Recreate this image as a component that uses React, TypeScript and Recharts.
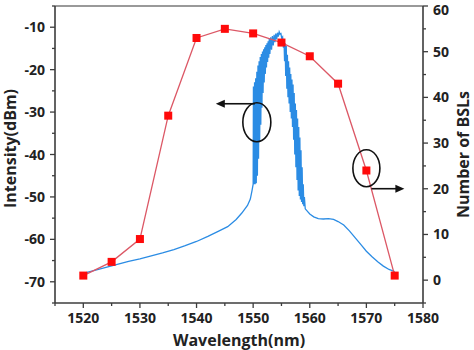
import React from 'react';
import {
  Label,
  Line,
  LineChart,
  ReferenceDot,
  ReferenceLine,
  XAxis,
  YAxis,
} from 'recharts';

// number of BSLs (right axis)
const bslWavelengths = [1520, 1525, 1530, 1535, 1540, 1545, 1550, 1555, 1560, 1565, 1570, 1575];
const bslCounts = [1, 4, 9, 36, 53, 55, 54, 52, 49, 43, 24, 1];

// spectrum (left axis), split in pieces
const baseWl = [1520, 1522, 1524, 1526, 1528, 1530, 1532, 1534, 1536, 1538, 1540, 1542, 1544, 1545.5, 1547, 1548, 1549, 1549.5, 1549.8, 1550.0];
const baseDbm = [-68, -67.3, -66.6, -65.9, -65.2, -64.6, -63.9, -63.2, -62.4, -61.5, -60.5, -59.3, -58.0, -57.0, -55.3, -53.8, -52, -50.5, -48.5, -47];

const riseWl = [
  1550.05, 1550.15, 1550.25, 1550.35, 1550.45, 1550.55, 1550.65, 1550.75, 1550.85, 1550.95,
  1551.05, 1551.15, 1551.25, 1551.35, 1551.45, 1551.55, 1551.65, 1551.75, 1551.85, 1551.95,
  1552.05, 1552.15, 1552.25, 1552.35, 1552.45, 1552.55, 1552.65, 1552.75, 1552.85, 1552.95,
  1553.1, 1553.25, 1553.4, 1553.55, 1553.7, 1553.85,
  1554.0, 1554.15, 1554.3, 1554.45, 1554.6,
];
const riseDbm = [
  -24, -47, -23, -47, -22, -46.8, -20.5, -45, -19, -41,
  -18, -37, -17, -33, -16.3, -29, -15.7, -25.5, -15.2, -23,
  -14.7, -21, -14.2, -19.5, -13.8, -18.2, -13.3, -17.2, -12.8, -16.3,
  -12.4, -15.3, -12.1, -14.3, -11.8, -13.5,
  -11.5, -12.9, -11.3, -12.2, -11.1,
];

const fallWl = [
  1554.75, 1554.9, 1555.05, 1555.2, 1555.35, 1555.45, 1555.55, 1555.65, 1555.75, 1555.85,
  1555.95, 1556.05, 1556.15, 1556.25, 1556.35, 1556.45, 1556.55, 1556.65, 1556.75, 1556.85,
  1556.95, 1557.05, 1557.15, 1557.25, 1557.35, 1557.45, 1557.55, 1557.65, 1557.75, 1557.85,
  1557.95, 1558.05, 1558.15, 1558.25, 1558.35, 1558.45, 1558.55, 1558.65, 1558.75, 1558.85,
  1558.95, 1559.05, 1559.2,
];
const fallDbm = [
  -11.6, -11.5, -12.6, -12.3, -14.8, -13.0, -18, -13.8, -21.5, -14.4,
  -24.5, -16.5, -26.5, -18, -28, -19.5, -30, -21, -31.5, -22.3,
  -33.5, -23.5, -36.5, -25.5, -40, -28, -43, -29.5, -46, -31.5,
  -48.5, -33.5, -49.8, -36, -50.6, -39, -51.2, -43, -51.7, -47,
  -52.2, -50, -52.8,
];

const tailWl = [1560, 1560.7, 1561.5, 1562.4, 1563.3, 1564.2, 1565, 1566, 1567, 1568, 1569, 1570, 1571, 1572, 1573, 1574, 1575];
const tailDbm = [-54, -54.7, -55.1, -55.2, -55.1, -55.3, -55.8, -56.6, -58, -59.6, -61.2, -62.8, -64.1, -65.3, -66.3, -67.1, -67.6];

const xTicks = [1515, 1520, 1525, 1530, 1535, 1540, 1545, 1550, 1555, 1560, 1565, 1570, 1575, 1580];
const leftTicks = [-75, -70, -65, -60, -55, -50, -45, -40, -35, -30, -25, -20, -15, -10, -5];
const rightTicks = [-5, 0, 5, 10, 15, 20, 25, 30, 35, 40, 45, 50, 55, 60];

const spectrum = [
  ...baseWl.map((wl, i) => ({ wl, dbm: baseDbm[i] })),
  ...riseWl.map((wl, i) => ({ wl, dbm: riseDbm[i] })),
  ...fallWl.map((wl, i) => ({ wl, dbm: fallDbm[i] })),
  ...tailWl.map((wl, i) => ({ wl, dbm: tailDbm[i] })),
];
const bsl = bslWavelengths.map((wl, i) => ({ wl, count: bslCounts[i] }));

const AXIS = '#3c3c3c';
const FONT = "'Open Sans', sans-serif";
const textStyle = { fontFamily: FONT, fontWeight: 700, fill: '#222' };

const isMajor = (v: number) => Math.abs(Number(v)) % 10 === 0;

const XTick = ({ x, y, payload }: any) => {
  const major = isMajor(payload.value);
  return (
    <g>
      <line x1={x} x2={x} y1={y} y2={y + (major ? 5 : 3)} stroke={AXIS} strokeWidth={1.3} />
      {major && Number(payload.value) !== 1515 ? (
        <text x={x} y={y + 20} textAnchor="middle" fontSize={14} style={textStyle}>
          {String(payload.value)}
        </text>
      ) : null}
    </g>
  );
};

const LeftTick = ({ x, y, payload }: any) => {
  const major = isMajor(payload.value);
  return (
    <g>
      <line x1={x} x2={x - (major ? 5 : 3)} y1={y} y2={y} stroke={AXIS} strokeWidth={1.3} />
      {major ? (
        <text x={x - 10} y={y + 5} textAnchor="end" fontSize={14} style={textStyle}>
          {String(payload.value)}
        </text>
      ) : null}
    </g>
  );
};

const RightTick = ({ x, y, payload }: any) => {
  const major = isMajor(payload.value);
  // the top label sits a little lower so it stays inside the picture
  const dy = Number(payload.value) === 60 ? 9 : 5;
  return (
    <g>
      <line x1={x} x2={x + (major ? 5 : 3)} y1={y} y2={y} stroke={AXIS} strokeWidth={1.3} />
      {major ? (
        <text x={x + 10} y={y + dy} textAnchor="start" fontSize={14} style={textStyle}>
          {String(payload.value)}
        </text>
      ) : null}
    </g>
  );
};

const Square = ({ cx, cy }: any) => (
  <rect x={cx - 4} y={cy - 4} width={8} height={8} fill="#ff0a0a" />
);

// ellipse with an arrow pointing to the axis it belongs to
const Marker = ({ cx, cy, dir }: any) => {
  if (dir === 'left') {
    const ry = 19.5;
    const ay = cy - ry + 1;
    return (
      <g>
        <ellipse cx={cx} cy={cy} rx={14} ry={ry} fill="none" stroke="#111" strokeWidth={1.6} />
        <line x1={cx - 2} x2={cx - 33} y1={ay} y2={ay} stroke="#111" strokeWidth={1.6} />
        <polygon points={`${cx - 41},${ay} ${cx - 32},${ay - 4} ${cx - 32},${ay + 4}`} fill="#111" />
      </g>
    );
  }
  const ry = 18.5;
  const ay = cy + ry + 2;
  return (
    <g>
      <ellipse cx={cx} cy={cy} rx={13.5} ry={ry} fill="none" stroke="#111" strokeWidth={1.6} />
      <line x1={cx + 5} x2={cx + 30} y1={ay} y2={ay} stroke="#111" strokeWidth={1.6} />
      <polygon points={`${cx + 38},${ay} ${cx + 29},${ay - 4} ${cx + 29},${ay + 4}`} fill="#111" />
    </g>
  );
};

export default function App() {
  return (
    <div style={{ position: 'absolute', left: 0, top: 0, width: 474, height: 350, background: '#fff' }}>
      <LineChart width={474} height={350} margin={{ top: 6, right: 0, bottom: 0, left: 0 }}>
        <XAxis
          xAxisId="x"
          type="number"
          dataKey="wl"
          domain={[1515, 1580]}
          ticks={xTicks}
          interval={0}
          allowDataOverflow
          height={47}
          tickSize={0}
          tickMargin={0}
          tickLine={false}
          axisLine={{ stroke: AXIS, strokeWidth: 1.6 }}
          tick={<XTick />}
        >
          <Label
            content={({ viewBox }: any) => (
              <text x={viewBox.x + viewBox.width / 2} y={viewBox.y + 43} textAnchor="middle" fontSize={16} style={textStyle}>
                Wavelength(nm)
              </text>
            )}
          />
        </XAxis>
        <YAxis
          yAxisId="left"
          type="number"
          domain={[-75, -5]}
          ticks={leftTicks}
          interval={0}
          allowDataOverflow
          width={55}
          tickSize={0}
          tickMargin={0}
          tickLine={false}
          axisLine={{ stroke: AXIS, strokeWidth: 1.6 }}
          tick={<LeftTick />}
        >
          <Label
            content={({ viewBox }: any) => {
              const cx = viewBox.x + 16;
              const cy = viewBox.y + viewBox.height / 2 - 6;
              return (
                <text x={cx} y={cy} transform={`rotate(-90 ${cx} ${cy})`} textAnchor="middle" fontSize={16} style={textStyle}>
                  Intensity(dBm)
                </text>
              );
            }}
          />
        </YAxis>
        <YAxis
          yAxisId="right"
          orientation="right"
          type="number"
          domain={[-5, 60]}
          ticks={rightTicks}
          interval={0}
          allowDataOverflow
          width={51}
          tickSize={0}
          tickMargin={0}
          tickLine={false}
          axisLine={{ stroke: AXIS, strokeWidth: 1.6 }}
          tick={<RightTick />}
        >
          <Label
            content={({ viewBox }: any) => {
              const cx = viewBox.x + 46;
              const cy = viewBox.y + viewBox.height / 2;
              return (
                <text x={cx} y={cy} transform={`rotate(-90 ${cx} ${cy})`} textAnchor="middle" fontSize={16} style={textStyle}>
                  Number of BSLs
                </text>
              );
            }}
          />
        </YAxis>
        <ReferenceLine xAxisId="x" yAxisId="left" y={-5} stroke="#777" strokeWidth={1.6} />
        <Line
          xAxisId="x"
          yAxisId="left"
          data={spectrum}
          dataKey="dbm"
          type="linear"
          stroke="#2b8ce4"
          strokeWidth={1.3}
          dot={false}
          isAnimationActive={false}
        />
        <Line
          xAxisId="x"
          yAxisId="right"
          data={bsl}
          dataKey="count"
          type="linear"
          stroke="#dc5866"
          strokeWidth={1.3}
          dot={<Square />}
          isAnimationActive={false}
        />
        <ReferenceDot
          xAxisId="x"
          yAxisId="left"
          x={1550.65}
          y={-32.4}
          shape={(p: any) => <Marker {...p} dir="left" />}
        />
        <ReferenceDot
          xAxisId="x"
          yAxisId="right"
          x={1570}
          y={24.5}
          shape={(p: any) => <Marker {...p} dir="right" />}
        />
      </LineChart>
    </div>
  );
}
